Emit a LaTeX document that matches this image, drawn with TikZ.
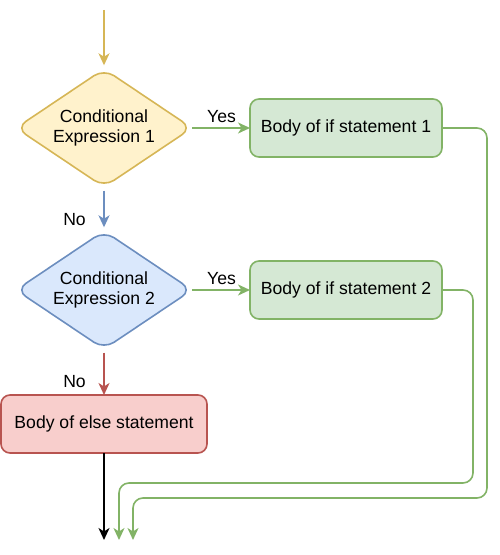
\documentclass[tikz,border=0pt]{standalone}
\usepackage{fontspec}
\setmainfont{Liberation Sans}
\usepackage{xcolor}
\usetikzlibrary{positioning}
\usetikzlibrary{arrows.meta}
\usetikzlibrary{shapes.geometric}
\definecolor{ylwfill}{HTML}{FFF2CC}
\definecolor{ylwline}{HTML}{D6B656}
\definecolor{bluefill}{HTML}{DAE8FC}
\definecolor{blueline}{HTML}{6C8EBF}
\definecolor{grnfill}{HTML}{D5E8D4}
\definecolor{grnline}{HTML}{82B366}
\definecolor{redfill}{HTML}{F8CECC}
\definecolor{redline}{HTML}{B85450}

\begin{document}
\begin{tikzpicture}[x=1pt, y=1pt, ->, >={Stealth[length=12pt, width=11pt, inset=3.5pt]}, line width=1.6pt, node distance=58pt, font=\fontsize{17.6}{20}\selectfont]
    \tikzstyle{cond}=[diamond, draw, aspect=1.5, minimum width=176pt, minimum height=118pt, inner sep=0pt, outer sep=0pt, rounded corners=12pt, align=center]
    \tikzstyle{block}=[rectangle, draw, rounded corners=9pt, minimum width=192pt, minimum height=58pt, inner sep=0pt, outer sep=0pt]
    \tikzstyle{lbl}=[inner sep=0pt]
    % the rounded tips of the diamonds sit inside their anchors
    \tikzstyle{intop}=[shorten >=3.7pt]
    \tikzstyle{frombottom}=[shorten <=3.7pt]

    \useasboundingbox (0,0) rectangle (500,555);

    \coordinate (start) at (104,545);
    \node[cond, draw=ylwline, fill=ylwfill] (cond1) at (104,427) {Conditional\\Expression 1};
    \node[block, draw=grnline, fill=grnfill, right=of cond1] (body1) {Body of if statement 1};
    \node[cond, draw=blueline, fill=bluefill, below=44pt of cond1] (cond2) {Conditional\\Expression 2};
    \node[block, draw=grnline, fill=grnfill, right=of cond2] (body2) {Body of if statement 2};
    \node[block, draw=redline, fill=redfill, minimum width=206pt, below=46pt of cond2] (else) {Body of else statement};

    \coordinate (end0) at (104,15);
    \coordinate (end2) at (119,15);
    \coordinate (end1) at (133,15);

    \draw[ylwline, intop] (start) -- (cond1);
    \draw[grnline] (cond1) -- (body1);
    \draw[blueline, frombottom, intop] (cond1) -- (cond2);
    \draw[grnline] (cond2) -- (body2);
    \draw[redline, frombottom] (cond2) -- (else);
    \draw[black] (else) -- (end0);
    \draw[grnline, rounded corners=10pt] (body1.east) -| (487,57) -| (end1);
    \draw[grnline, rounded corners=10pt] (body2.east) -| (473,72) -| (end2);

    \node[lbl] (yes1) at (221.5,438.5) {Yes};
    \node[lbl] (yes2) at (221.5,276.5) {Yes};
    \node[lbl] (no1) at (74.5,335.5) {No};
    \node[lbl] (no2) at (74.5,173.5) {No};
\end{tikzpicture}
\end{document}
